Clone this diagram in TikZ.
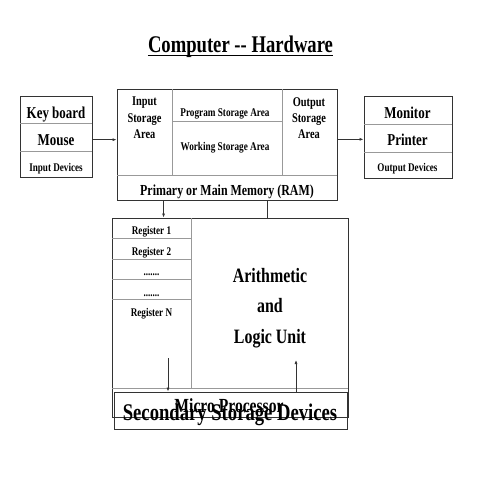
\documentclass[tikz,border=0pt]{standalone}
\usepackage{fontspec}
\setmainfont{Liberation Serif}[FakeStretch=0.78]
\usetikzlibrary{arrows.meta}

\begin{document}
\begin{tikzpicture}[x=1pt,y=-1pt,
  box/.style={draw=black!80, line width=.9pt, inner sep=0pt},
  div/.style={draw=black!40, line width=.7pt},
  txt/.style={inner sep=0pt, anchor=base},
  arr/.style={-{Latex[length=4pt,width=3pt]}, line width=.7pt, draw=black!80}]
\useasboundingbox (0,0) rectangle (480,480);
\node[txt, font=\bfseries\fontsize{23.9}{24}\selectfont] (title) at (240.5,52.5) {Computer -{}- Hardware};
\draw[line width=.9pt] ([yshift=-3pt]title.base west) -- ([yshift=-3pt]title.base east);
\node[box, minimum width=72, minimum height=81] (inbox) at (56,136.5) {};
\draw[div] (20,123) -- (92,123);
\draw[div] (20,151) -- (92,151);
\node[txt, font=\bfseries\fontsize{16.6}{17}\selectfont] (keyb) at (56,118) {Key board};
\node[txt, font=\bfseries\fontsize{16.6}{17}\selectfont] (mouse) at (56,145) {Mouse};
\node[txt, font=\bfseries\fontsize{11.7}{12}\selectfont] (indev) at (56,171) {Input Devices};
\node[box, minimum width=220, minimum height=111] (mem) at (227,144.5) {};
\draw[div] (172,89) -- (172,175);
\draw[div] (282,89) -- (282,175);
\draw[div] (172,121) -- (282,121);
\draw[div] (117,175) -- (337,175);
\node[inner sep=0pt, anchor=north, align=center, font=\bfseries\fontsize{13.3}{16.3}\selectfont] (instore) at (144.5,97) {Input\\Storage\\Area};
\node[inner sep=0pt, anchor=north, align=center, font=\bfseries\fontsize{13.3}{16.3}\selectfont] (outstore) at (309,97) {Output\\Storage\\Area};
\node[txt, font=\bfseries\fontsize{11.8}{12}\selectfont] (prog) at (225,116) {Program Storage Area};
\node[txt, font=\bfseries\fontsize{11.8}{12}\selectfont] (work) at (225,150) {Working Storage Area};
\node[txt, font=\bfseries\fontsize{15.3}{16}\selectfont] (ram) at (227,195) {Primary or Main Memory (RAM)};
\node[box, minimum width=88, minimum height=82] (outbox) at (408,137) {};
\draw[div] (364,124) -- (452,124);
\draw[div] (364,152) -- (452,152);
\node[txt, font=\bfseries\fontsize{16.6}{17}\selectfont] (monitor) at (407.5,118) {Monitor};
\node[txt, font=\bfseries\fontsize{16.6}{17}\selectfont] (printer) at (407.5,145) {Printer};
\node[txt, font=\bfseries\fontsize{11.7}{12}\selectfont] (outdev) at (407.5,171) {Output Devices};
\draw[arr] (mouse.east -| inbox.east) -- (mouse.east -| mem.west);
\draw[arr] (printer.west -| mem.east) -- (printer.west -| outbox.west);
\node[box, minimum width=236, minimum height=199] (cpu) at (230,317.5) {};
\draw[div] (191,218) -- (191,388);
\draw[div] (112,388) -- (348,388);
\draw[div] (112,238) -- (191,238);
\draw[div] (112,259) -- (191,259);
\draw[div] (112,279) -- (191,279);
\draw[div] (112,299) -- (191,299);
\node[txt, font=\bfseries\fontsize{11.7}{12}\selectfont] (reg1) at (151.5,234) {Register 1};
\node[txt, font=\bfseries\fontsize{11.7}{12}\selectfont] (reg2) at (151.5,255) {Register 2};
\node[txt, font=\bfseries\fontsize{11.7}{12}\selectfont] (dotsa) at (151.5,275) {.......};
\node[txt, font=\bfseries\fontsize{11.7}{12}\selectfont] (dotsb) at (151.5,296) {.......};
\node[txt, font=\bfseries\fontsize{11.7}{12}\selectfont] (regn) at (151.5,316) {Register N};
\node[inner sep=0pt, anchor=north, align=center, font=\bfseries\fontsize{20.4}{30.5}\selectfont] (alu) at (270,268) {Arithmetic\\and\\Logic Unit};
\node[txt, font=\bfseries\fontsize{20}{20}\selectfont] (micro) at (229,412) {Micro Processor};
\node[box, minimum width=233, minimum height=37] (sec) at (230.5,410.5) {};
\node[txt, font=\bfseries\fontsize{23.9}{24}\selectfont] (secdev) at (230,420.5) {Secondary Storage Devices};
\draw[arr] ([xshift=47pt]mem.south west) -- ([xshift=47pt]mem.south west |- cpu.north);
\draw[line width=.7pt, draw=black!80] ([xshift=151pt]mem.south west) -- ([xshift=151pt]mem.south west |- cpu.north);
\coordinate (regout) at (168,358);
\coordinate (aluin) at (296,360);
\draw[arr] (regout) -- (regout |- sec.north);
\draw[arr] (aluin |- sec.north) -- (aluin);
\end{tikzpicture}
\end{document}
